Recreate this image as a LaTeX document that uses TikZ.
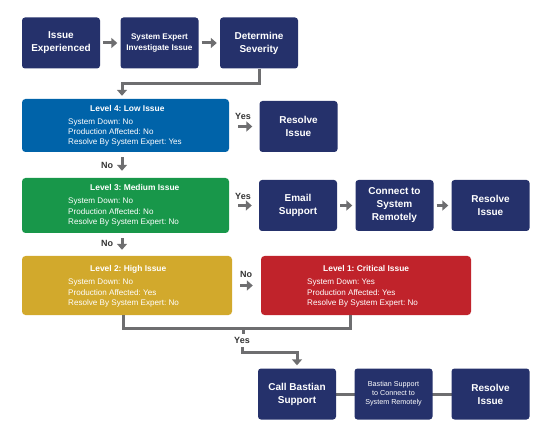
\documentclass[tikz,border=0pt]{standalone}
\usepackage{fontspec}
\setmainfont{Liberation Sans}
\usetikzlibrary{arrows.meta}
\frenchspacing
\definecolor{navy}{HTML}{25316B}
\definecolor{lvblue}{HTML}{0063A9}
\definecolor{lvgreen}{HTML}{18974A}
\definecolor{lvgold}{HTML}{D2A92C}
\definecolor{lvred}{HTML}{C0232B}
\definecolor{conn}{HTML}{6E6E70}
\tikzset{
  navybox/.style={draw=none, fill=navy, rounded corners=3pt, minimum width=78pt, minimum height=51pt, text=white, align=center, inner sep=0pt, font=\fontsize{10}{13}\selectfont\bfseries},
  smallnavy/.style={navybox, font=\fontsize{8.2}{10.5}\selectfont\bfseries},
  tinynavy/.style={navybox, font=\fontsize{7.2}{9}\selectfont},
  levelbox/.style={draw=none, rounded corners=3.5pt, inner sep=0pt},
  lvtitle/.style={anchor=base west, inner sep=0pt, text=white, font=\fontsize{8.4}{10}\selectfont\bfseries},
  lvline/.style={anchor=base west, inner sep=0pt, text=white, font=\fontsize{8.1}{10}\selectfont},
  lab/.style={inner sep=0pt, text=black!80, font=\fontsize{9}{10}\selectfont\bfseries},
  arr/.style={draw=conn, line width=3pt, -{Triangle[length=6pt,width=10pt]}},
  plainline/.style={draw=conn, line width=3pt},
}
\begin{document}
\begin{tikzpicture}[x=1pt,y=-1pt]
\useasboundingbox (0,0) rectangle (551,438);
% row 1
\node[navybox] (ie) at (61,43) {Issue\\Experienced};
\node[smallnavy] (se) at (159.5,43) {System Expert\\Investigate Issue};
\node[navybox] (ds) at (259,43) {Determine\\Severity};
\draw[arr, shorten <=3pt, shorten >=3pt] (ie) -- (se);
\draw[arr, shorten <=3pt, shorten >=3pt] (se) -- (ds);
% level boxes
\node[levelbox, fill=lvblue, minimum width=207pt, minimum height=53pt] (l4) at (125.5,125.5) {};
\node[levelbox, fill=lvgreen, minimum width=207pt, minimum height=55pt] (l3) at (125.5,205.5) {};
\node[levelbox, fill=lvgold, minimum width=210pt, minimum height=59pt] (l2) at (127,285.5) {};
\node[levelbox, fill=lvred, minimum width=210pt, minimum height=59pt] (l1) at (366,285.5) {};
% level texts
\node[lvtitle] (l4t) at (90,112) {Level 4: Low Issue};
\node[lvline] (l4a) at (68,125) {System Down: No};
\node[lvline] (l4b) at (68,135) {Production Affected: No};
\node[lvline] (l4c) at (68,145) {Resolve By System Expert: Yes};
\node[lvtitle] (l3t) at (90,191) {Level 3: Medium Issue};
\node[lvline] (l3a) at (68,204) {System Down: No};
\node[lvline] (l3b) at (68,215) {Production Affected: No};
\node[lvline] (l3c) at (68,225) {Resolve By System Expert: No};
\node[lvtitle] (l2t) at (90,271) {Level 2: High Issue};
\node[lvline] (l2a) at (68,284) {System Down: No};
\node[lvline] (l2b) at (68,295) {Production Affected: Yes};
\node[lvline] (l2c) at (68,305) {Resolve By System Expert: No};
\node[lvtitle] (l1t) at (323,272) {Level 1: Critical Issue};
\node[lvline] (l1a) at (307,284) {System Down: Yes};
\node[lvline] (l1b) at (307,295) {Production Affected: Yes};
\node[lvline] (l1c) at (307,305) {Resolve By System Expert: No};
% right boxes
\node[navybox] (r4) at (298.5,126.5) {Resolve\\Issue};
\node[navybox] (es) at (298,205.5) {Email\\Support};
\node[navybox] (cs) at (394.5,205.5) {Connect to\\System\\Remotely};
\node[navybox] (r3) at (490.5,205.5) {Resolve\\Issue};
% coordinates
\coordinate (xa) at (122,0);
\coordinate (ja) at (122,84);
\coordinate (jb) at (259,84);
\coordinate (bl) at (123,328);
\coordinate (br) at (350,328);
\coordinate (bm) at (243,328);
\coordinate (bm2) at (243,334);
\coordinate (ya) at (242,347);
\coordinate (yb) at (242,352);
\coordinate (yc) at (297,352);
% bottom row lines (drawn first so boxes cover them)
\coordinate (cbc) at (297,394);
\coordinate (bsc) at (393.5,394);
\coordinate (r1c) at (490.5,394);
\draw[plainline] (cbc) -- (bsc) -- (r1c);
\node[navybox] (cb) at (cbc) {Call Bastian\\Support};
\node[tinynavy] (bs) at (bsc) {Bastian Support\\to Connect to\\System Remotely};
\node[navybox] (r1) at (r1c) {Resolve\\Issue};
% connectors
\draw[arr, shorten >=3pt] (ds.south) |- (jb) -- (ja) -- (l4.north -| ja);
\draw[arr, shorten <=9pt, shorten >=7pt] (l4.east |- r4) -- (r4.west);
\node[lab] (y4) at (243,116) {Yes};
\draw[arr, shorten <=5pt, shorten >=7pt] (l4.south -| xa) -- (l3.north -| xa);
\node[lab] (n4) at (107,165) {No};
\draw[arr, shorten <=9pt, shorten >=7pt] (l3.east |- es) -- (es.west);
\node[lab] (y3) at (243,196) {Yes};
\draw[arr, shorten <=3pt, shorten >=3pt] (es) -- (cs);
\draw[arr, shorten <=3pt, shorten >=3pt] (cs) -- (r3);
\draw[arr, shorten <=5pt, shorten >=6pt] (l3.south -| xa) -- (l2.north -| xa);
\node[lab] (n3) at (107,243) {No};
\draw[arr, shorten <=8pt, shorten >=8pt] (l2.east |- l1) -- (l1.west);
\node[lab] (n2) at (246,274) {No};
\draw[plainline] (l2.south -| bl) -- (bl) -- (br) -- (l1.south -| br);
\draw[plainline] (bm) -- (bm2);
\node[lab] (y2) at (242,340) {Yes};
\draw[arr, shorten >=3pt] (ya) -- (yb) -- (yc) -- (cb.north);
\end{tikzpicture}
\end{document}
